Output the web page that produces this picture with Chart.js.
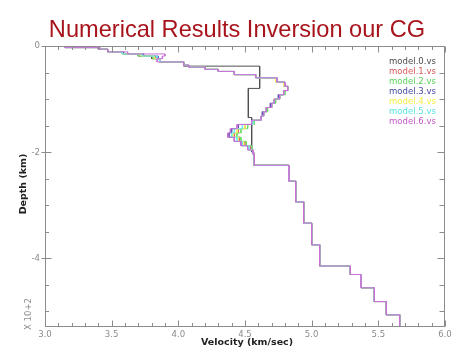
<!DOCTYPE html>
<html>
<head>
<meta charset="utf-8">
<script src="https://cdn.jsdelivr.net/npm/chart.js@4.4.0/dist/chart.umd.min.js"></script>
<style>
  html, body { margin: 0; padding: 0; background: #fff; }
  #wrap { width: 474px; height: 355px; position: relative; }
</style>
</head>
<body>
<div id="wrap"><canvas id="c"></canvas></div>
<script>
// ---------------- data ----------------
const modelNames = ['model.0.vs', 'model.1.vs', 'model.2.vs', 'model.3.vs', 'model.4.vs', 'model.5.vs', 'model.6.vs'];

// layer top depths (km) of the inverted models (shallow part)
const layerTops = [0, 0.03, 0.06, 0.11, 0.15, 0.19, 0.24, 0.30, 0.36, 0.40, 0.44, 0.48, 0.54, 0.60, 0.68, 0.76, 0.84, 0.92, 1.00, 1.08, 1.16, 1.24, 1.32, 1.40, 1.48, 1.56, 1.64, 1.72, 1.80, 1.88, 1.96, 2.04, 2.12];
// deep layers common to all models
const deepTops = [2.25, 2.55, 2.94, 3.34, 3.75, 4.15, 4.31, 4.56, 4.82, 5.07];
const deepVel = [4.83, 4.88, 4.94, 5.00, 5.06, 5.29, 5.37, 5.47, 5.56, 5.66];
const modelBottom = 5.3;

// true model
const vs0Tops = [0, 0.03, 0.06, 0.11, 0.15, 0.19, 0.24, 0.30, 0.38, 0.80, 1.35, 2.00];
const vs0 = [3.15, 3.40, 3.47, 3.58, 3.70, 3.80, 3.86, 4.04, 4.61, 4.525, 4.55, 4.565];

// inverted models (velocities per shallow layer)
const vs1 = [3.15,3.41,3.47,3.58,3.72,3.83,3.86,4.04,4.08,4.20,4.30,4.42,4.58,4.73,4.79,4.82,4.79,4.76,4.72,4.70,4.66,4.64,4.62,4.56,4.50,4.45,4.42,4.46,4.50,4.54,4.56,4.57,4.57];
const vs2 = [3.15,3.41,3.47,3.58,3.70,3.81,3.86,4.04,4.08,4.20,4.30,4.42,4.58,4.73,4.79,4.82,4.80,4.76,4.73,4.70,4.67,4.64,4.62,4.57,4.52,4.47,4.44,4.47,4.51,4.55,4.56,4.57,4.57];
const vs3 = [3.15,3.41,3.47,3.59,3.74,3.85,3.86,4.04,4.08,4.20,4.30,4.42,4.58,4.74,4.80,4.82,4.79,4.75,4.72,4.69,4.66,4.63,4.62,4.55,4.45,4.40,4.38,4.42,4.47,4.52,4.56,4.57,4.57];
const vs4 = [3.15,3.41,3.47,3.58,3.72,3.82,3.86,4.04,4.08,4.20,4.30,4.42,4.58,4.73,4.79,4.82,4.79,4.76,4.72,4.70,4.66,4.64,4.62,4.56,4.50,4.44,4.41,4.45,4.49,4.53,4.56,4.57,4.57];
const vs5 = [3.15,3.41,3.47,3.58,3.73,3.84,3.86,4.04,4.08,4.20,4.30,4.42,4.58,4.74,4.80,4.82,4.79,4.76,4.72,4.70,4.66,4.64,4.62,4.56,4.48,4.42,4.40,4.44,4.48,4.53,4.56,4.57,4.57];
const vs6 = [3.15,3.41,3.47,3.62,3.90,3.88,3.84,4.04,4.08,4.20,4.30,4.42,4.58,4.74,4.80,4.82,4.79,4.76,4.72,4.70,4.66,4.64,4.62,4.55,4.44,4.39,4.37,4.42,4.47,4.52,4.56,4.57,4.57];

// axis tick labels
const xTickValues = [3.0, 3.5, 4.0, 4.5, 5.0, 5.5, 6.0];
const xTickLabels = ['3.0', '3.5', '4.0', '4.5', '5.0', '5.5', '6.0'];
const yTickValues = [0, -2, -4];
const yTickLabels = ['0', '-2', '-4'];

const titleText = 'Numerical Results Inversion our CG';
const xTitle = 'Velocity (km/sec)';
const yTitle = 'Depth (km)';
const yScaleNote = 'X 10+2';

// ---------------- styles ----------------
const colors = ['#505050', '#e06868', '#6ade6a', '#5a5ab8', '#f4f060', '#6aeeee', '#cc70d6'];
const textColors = ['#4a4a4a', '#d85a5a', '#58d458', '#4848a4', '#f0ee48', '#58e2e2', '#c258ca'];

function stepPoints(tops, vels, bottom) {
  const pts = [];
  for (let i = 0; i < vels.length; i++) {
    const top = tops[i];
    const bot = i + 1 < tops.length ? tops[i + 1] : bottom;
    pts.push({x: vels[i], y: -top});
    pts.push({x: vels[i], y: -bot});
  }
  return pts;
}

const invTops = layerTops.concat(deepTops);
const models = [
  stepPoints(vs0Tops.concat(deepTops), vs0.concat(deepVel), modelBottom),
  stepPoints(invTops, vs1.concat(deepVel), modelBottom),
  stepPoints(invTops, vs2.concat(deepVel), modelBottom),
  stepPoints(invTops, vs3.concat(deepVel), modelBottom),
  stepPoints(invTops, vs4.concat(deepVel), modelBottom),
  stepPoints(invTops, vs5.concat(deepVel), modelBottom),
  stepPoints(invTops, vs6.concat(deepVel), modelBottom)
];

const datasets = models.map((pts, i) => ({
  label: modelNames[i],
  data: pts,
  showLine: true,
  borderColor: colors[i],
  backgroundColor: colors[i],
  borderWidth: 1,
  pointRadius: 0,
  tension: 0,
  fill: false,
  order: models.length - i
}));

const axisColor = '#8c8c8c';
const tickFont = '9.5px "Liberation Sans Narrow", "DejaVu Sans Condensed", sans-serif';

const decor = {
  id: 'decor',
  beforeDraw(chart) {
    const ctx = chart.ctx;
    ctx.save();
    ctx.fillStyle = '#ffffff';
    ctx.fillRect(0, 0, chart.width, chart.height);
    ctx.restore();
  },
  afterDraw(chart) {
    const ctx = chart.ctx;
    const a = chart.chartArea;
    const xs = chart.scales.x, ys = chart.scales.y;
    ctx.save();
    // frame
    ctx.strokeStyle = axisColor;
    ctx.lineWidth = 1;
    const L = Math.round(a.left) + 0.5, R = Math.round(a.right) - 0.5;
    const T = Math.round(a.top) + 0.5, B = Math.round(a.bottom) - 0.5;
    ctx.strokeRect(L, T, R - L, B - T);
    ctx.beginPath();
    // x ticks (minor every 0.1, major every 0.5)
    for (let k = 0; k <= 30; k++) {
      const v = 3 + k * 0.1;
      const px = Math.round(xs.getPixelForValue(v)) + 0.5;
      const len = (k % 5 === 0) ? 6 : 3.5;
      ctx.moveTo(px, B); ctx.lineTo(px, B - len);
      ctx.moveTo(px, T); ctx.lineTo(px, T + len);
    }
    // y ticks every 0.5 km
    for (let k = 0; k <= 10; k++) {
      const v = -k * 0.5;
      const py = Math.round(ys.getPixelForValue(v)) + 0.5;
      const major = (k % 4 === 0);
      ctx.moveTo(L - (major ? 4 : 0), py); ctx.lineTo(L + (major ? 6 : 3.5), py);
      ctx.moveTo(R, py); ctx.lineTo(R - (major ? 7 : 5), py);
    }
    ctx.stroke();

    // title
    ctx.fillStyle = '#a8141c';
    ctx.font = '23.6px "Liberation Sans", Arial, sans-serif';
    ctx.textAlign = 'center';
    ctx.textBaseline = 'alphabetic';
    ctx.fillText(titleText, 237, 37);

    // axis titles
    ctx.fillStyle = '#222222';
    ctx.font = 'bold 9.5px "DejaVu Sans", sans-serif';
    ctx.textBaseline = 'middle';
    ctx.fillText(xTitle, 247, 343);
    ctx.save();
    ctx.translate(24, 184);
    ctx.rotate(-Math.PI / 2);
    ctx.fillText(yTitle, 0, 0);
    ctx.restore();

    // scale note
    ctx.save();
    ctx.fillStyle = '#8c8c8c';
    ctx.font = tickFont;
    ctx.translate(29, 314);
    ctx.rotate(-Math.PI / 2);
    ctx.fillText(yScaleNote, 0, 0);
    ctx.restore();

    // legend
    ctx.font = '9.5px "Liberation Sans Narrow", "DejaVu Sans Condensed", sans-serif';
    ctx.textAlign = 'right';
    for (let i = 0; i < modelNames.length; i++) {
      ctx.fillStyle = textColors[i];
      ctx.fillText(modelNames[i], 436, 62 + i * 9.9);
    }
    ctx.restore();
  }
};

new Chart(document.getElementById('c'), {
  type: 'scatter',
  data: { datasets },
  options: {
    responsive: true,
    maintainAspectRatio: false,
    animation: false,
    devicePixelRatio: 1,
    layout: { padding: { top: 46, right: 29, left: 0, bottom: 0 } },
    plugins: { legend: { display: false }, tooltip: { enabled: false }, title: { display: false } },
    scales: {
      x: {
        type: 'linear', position: 'bottom', min: 3, max: 6,
        grid: { display: false, drawTicks: false },
        border: { display: false },
        afterBuildTicks: s => { s.ticks = xTickValues.map(v => ({ value: v })); },
        afterFit: s => { s.height = 28; },
        ticks: {
          padding: 2, maxRotation: 0, autoSkip: false, color: '#8c8c8c',
          font: { family: '"Liberation Sans Narrow", "DejaVu Sans Condensed", sans-serif', size: 9.5 },
          callback: (v) => { const i = xTickValues.findIndex(t => Math.abs(t - v) < 1e-6); return i >= 0 ? xTickLabels[i] : ''; }
        }
      },
      y: {
        type: 'linear', position: 'left', min: -modelBottom, max: 0,
        grid: { display: false, drawTicks: false },
        border: { display: false },
        afterBuildTicks: s => { s.ticks = yTickValues.map(v => ({ value: v })); },
        afterFit: s => { s.width = 45; },
        ticks: {
          padding: 5, autoSkip: false, color: '#8c8c8c',
          font: { family: '"Liberation Sans Narrow", "DejaVu Sans Condensed", sans-serif', size: 9.5 },
          callback: (v) => { const i = yTickValues.findIndex(t => Math.abs(t - v) < 1e-6); return i >= 0 ? yTickLabels[i] : ''; }
        }
      }
    }
  },
  plugins: [decor]
});
</script>
</body>
</html>
